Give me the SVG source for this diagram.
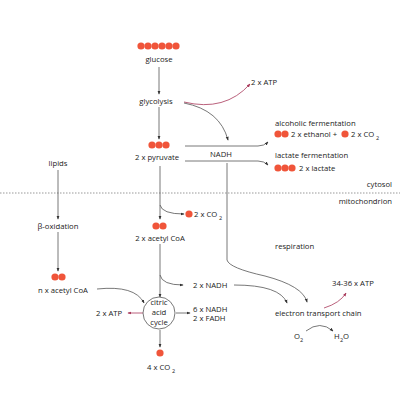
<svg xmlns="http://www.w3.org/2000/svg" width="400" height="400" viewBox="0 0 400 400">
<style>
text{font-family:"Open Sans","Liberation Sans",sans-serif;font-size:7.7px;fill:#222}
.m{text-anchor:middle}
.e{text-anchor:end}
.sub{font-size:5.5px}
.dot{fill:#f0553a}
.ln{fill:none;stroke:#555;stroke-width:0.8}
.rd{fill:none;stroke:#a8385a;stroke-width:0.8}
</style>
<defs>
<marker id="a" viewBox="0 0 6 6" refX="5" refY="3" markerWidth="5" markerHeight="5" orient="auto"><path d="M0,0.8 L6,3 L0,5.2 z" fill="#333"/></marker>
<marker id="r" viewBox="0 0 6 6" refX="5" refY="3" markerWidth="5" markerHeight="5" orient="auto"><path d="M0,0.8 L6,3 L0,5.2 z" fill="#a8385a"/></marker>
</defs>
<rect width="400" height="400" fill="#fff"/>
<line x1="0" y1="193" x2="400" y2="193" stroke="#999" stroke-width="1" stroke-dasharray="1.5,1.5"/>
<text class="e" x="392" y="187">cytosol</text>
<text class="e" x="392" y="204">mitochondrion</text>
<g id="connectors">
<path class="ln" d="M159,67 L159,94" marker-end="url(#a)"/>
<path class="ln" d="M159,107 L159,139" marker-end="url(#a)"/>
<path class="rd" d="M184,102 Q225,112 250,84" marker-end="url(#r)"/>
<path class="ln" d="M184,103 Q220,110 228,140" marker-end="url(#a)"/>
<path class="ln" d="M185,146 L258,146 Q264,146 268,142" marker-end="url(#a)"/>
<path class="ln" d="M185,161 L258,161 Q264,161 268,165" marker-end="url(#a)"/>
<path class="ln" d="M227,163 L227,260 Q229,268 265,276 Q303,286 307,302" marker-end="url(#a)"/>
<path class="ln" d="M58,170 L58,219" marker-end="url(#a)"/>
<path class="ln" d="M58,232 L58,271" marker-end="url(#a)"/>
<path class="ln" d="M160,166 L160,219" marker-end="url(#a)"/>
<path class="ln" d="M160,205 Q162,214 184,214" marker-end="url(#a)"/>
<path class="ln" d="M160,244 L160,297" marker-end="url(#a)"/>
<path class="ln" d="M160,275 Q162,285 183,285" marker-end="url(#a)"/>
<path class="ln" d="M97,289 Q135,285 144,303" marker-end="url(#a)"/>
<path class="rd" d="M143,313 L128,313" marker-end="url(#r)"/>
<path class="ln" d="M176,313 L190,313" marker-end="url(#a)"/>
<path class="ln" d="M160,330 L160,347" marker-end="url(#a)"/>
<path class="ln" d="M234,285 Q280,285 287,303" marker-end="url(#a)"/>
<path class="rd" d="M324,308 Q340,303 346,293" marker-end="url(#r)"/>
<path class="ln" d="M306,331 Q320,320 333,331" marker-end="url(#a)"/>
</g>
<g id="glucose">
<circle class="dot" cx="141" cy="46" r="3.6"/><circle class="dot" cx="148" cy="46" r="3.6"/><circle class="dot" cx="155" cy="46" r="3.6"/><circle class="dot" cx="162" cy="46" r="3.6"/><circle class="dot" cx="169" cy="46" r="3.6"/><circle class="dot" cx="176" cy="46" r="3.6"/>
<text class="m" x="159" y="62">glucose</text>
</g>
<g id="glycolysis"><text class="m" x="156" y="104">glycolysis</text></g>
<g id="atp1"><text x="251" y="85">2 x ATP</text></g>
<g id="pyruvate">
<circle class="dot" cx="152" cy="145" r="3.6"/><circle class="dot" cx="159" cy="145" r="3.6"/><circle class="dot" cx="166" cy="145" r="3.6"/>
<text class="m" x="157" y="160">2 x pyruvate</text>
</g>
<g id="nadh1"><text class="m" x="221" y="157">NADH</text></g>
<g id="alcoholic">
<text x="275" y="126">alcoholic fermentation</text>
<circle class="dot" cx="278" cy="134" r="3.6"/><circle class="dot" cx="285" cy="134" r="3.6"/>
<text x="291" y="137">2 x ethanol +</text>
<circle class="dot" cx="345" cy="134" r="3.6"/>
<text x="351" y="137">2 x CO</text><text class="sub" x="376" y="140">2</text>
</g>
<g id="lactate">
<text x="275" y="158">lactate fermentation</text>
<circle class="dot" cx="278" cy="168" r="3.6"/><circle class="dot" cx="285" cy="168" r="3.6"/><circle class="dot" cx="292" cy="168" r="3.6"/>
<text x="299" y="171">2 x lactate</text>
</g>
<g id="lipids"><text class="m" x="58" y="166">lipids</text></g>
<g id="boxidation"><text class="m" x="58" y="229">β-oxidation</text></g>
<g id="nacetyl">
<circle class="dot" cx="55" cy="277" r="3.6"/><circle class="dot" cx="62" cy="277" r="3.6"/>
<text class="m" x="63" y="293">n x acetyl CoA</text>
</g>
<g id="co2a">
<circle class="dot" cx="189" cy="214" r="3.6"/>
<text x="194" y="217">2 x CO</text><text class="sub" x="219" y="220">2</text>
</g>
<g id="acetyl">
<circle class="dot" cx="156" cy="226" r="3.6"/><circle class="dot" cx="163" cy="226" r="3.6"/>
<text class="m" x="160" y="241">2 x acetyl CoA</text>
</g>
<g id="nadh2"><text x="193" y="288">2 x NADH</text></g>
<g id="cycle">
<circle cx="159" cy="313" r="16" fill="#fff" stroke="#555" stroke-width="0.8"/>
<text class="m" x="159" y="305">citric</text>
<text class="m" x="159" y="315">acid</text>
<text class="m" x="159" y="325">cycle</text>
</g>
<g id="atp2"><text x="96" y="316">2 x ATP</text></g>
<g id="nadh3"><text x="193" y="312">6 x NADH</text><text x="193" y="321">2 x FADH</text></g>
<g id="co2b">
<circle class="dot" cx="160" cy="353" r="3.6"/>
<text x="147" y="370">4 x CO</text><text class="sub" x="172" y="373">2</text>
</g>
<g id="respiration"><text x="275" y="249">respiration</text></g>
<g id="etc"><text x="275" y="316">electron transport chain</text></g>
<g id="atp3"><text x="332" y="286">34-36 x ATP</text></g>
<g id="o2"><text x="294" y="339">O</text><text class="sub" x="300" y="342">2</text></g>
<g id="h2o"><text x="334" y="339">H</text><text class="sub" x="340" y="342">2</text><text x="343" y="339">O</text></g>
</svg>
